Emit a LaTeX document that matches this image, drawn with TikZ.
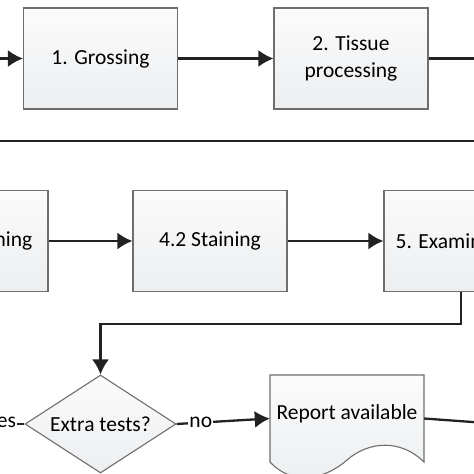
\documentclass[tikz,border=0pt]{standalone}
\usepackage{fontspec}
\setmainfont{Carlito}
\usetikzlibrary{arrows.meta,shapes.geometric}
\definecolor{boxline}{HTML}{6E6E6E}
\definecolor{conn}{HTML}{222222}
\definecolor{topfill}{HTML}{FBFBFB}
\definecolor{botfill}{HTML}{ECEEF0}
\tikzset{
  stepbox/.style={draw=boxline, line width=1.1pt, top color=topfill, bottom color=botfill,
    minimum width=154pt, minimum height=101pt, inner sep=2pt, align=center,
    font=\fontsize{21.5}{27}\selectfont, text=black},
  decision/.style={diamond, draw=boxline, line width=1.1pt, top color=topfill, bottom color=botfill,
    aspect=1.54, inner sep=0pt, minimum width=151pt, minimum height=98pt,
    font=\fontsize{21.5}{27}\selectfont, text=black},
  conn/.style={draw=conn, line width=2.3pt},
  arr/.style={conn, -{Latex[length=15pt,width=17pt]}},
  lbl/.style={fill=white, inner sep=1pt, font=\fontsize{21.5}{27}\selectfont, text=black},
}
\begin{document}
\begin{tikzpicture}[x=1pt,y=-1pt]
\useasboundingbox (0,0) rectangle (474,474);
% top row
\node[stepbox] (b1) at (100.5,58.5) {1. Grossing};
\node[stepbox] (b2) at (351,58.5) {2. Tissue\\processing};
\coordinate (in1) at (-30,58.5);
\coordinate (out2) at (500,58.5);
\draw[arr] (in1) -- (b1.west);
\draw[arr] (b1.east) -- (b2.west);
\draw[conn] (b2.east) -- (out2);
% separating connector
\coordinate (sepL) at (-30,141);
\coordinate (sepR) at (500,141);
\draw[conn, line width=2.6pt] (sepL) -- (sepR);
% middle row
\node[stepbox] (b41) at (-29,241) {4.1 Sectioning};
\node[stepbox] (b42) at (210,241) {4.2 Staining};
\node[stepbox] (b5) at (461,241) {5. Examination};
\draw[arr] (b41.east) -- (b42.west);
\draw[arr] (b42.east) -- (b5.west);
% decision
\node[decision] (dia) at (100.5,424) {Extra tests?};
\coordinate (turn) at (461,324);
\draw[arr] (b5.south) -- (turn) -| (dia.north);
% report (document shape)
\coordinate (rtl) at (270,375);
\coordinate (rtr) at (424,375);
\coordinate (rbr) at (424,462);
\coordinate (rbl) at (270,462);
\path[draw=boxline, line width=1.1pt, top color=topfill, bottom color=botfill]
  (rtl) -- (rtr) -- (rbr) .. controls (402,440) and (370,440) .. (347,460)
  .. controls (322,482) and (290,484) .. (rbl) -- cycle;
\node[minimum width=154pt, minimum height=87pt] (rep) at (347,418.5) {};
\node[font=\fontsize{21.5}{27}\selectfont, text=black] (reptext) at (347,414) {Report available};
\draw[arr] (dia.east) -- node[lbl, pos=0.26] (no) {no} (rep.west);
\coordinate (yesend) at (-60,424);
\draw[conn] (dia.west) -- node[lbl, pos=0.27] (yes) {yes} (yesend);
\coordinate (repout) at (500,424);
\draw[conn] (rep.east) -- (repout);
\end{tikzpicture}
\end{document}
